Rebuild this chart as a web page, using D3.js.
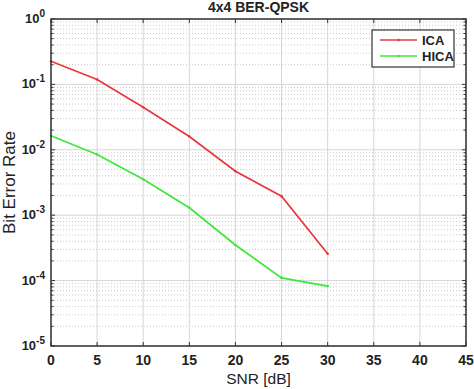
<!DOCTYPE html>
<html>
<head>
<meta charset="utf-8">
<script src="https://cdn.jsdelivr.net/npm/d3@7"></script>
<style>
  body { margin: 0; background: #fff; }
  svg { font-family: "Liberation Sans", Arial, sans-serif; }
</style>
</head>
<body>
<div id="chart"></div>
<script>
// data
const snr = [0, 5, 10, 15, 20, 25, 30]
const ica = [0.226, 0.119, 0.0448, 0.016, 0.0047, 0.00195, 0.000257]
const hica = [0.0164, 0.0085, 0.00355, 0.0013, 0.00035, 0.00011, 0.0000822]
const xTicks = [0, 5, 10, 15, 20, 25, 30, 35, 40, 45]
const yExps = [0, -1, -2, -3, -4, -5]

const series = [
    { name: 'ICA', values: ica, color: '#e8383d' },
    { name: 'HICA', values: hica, color: '#3ee83a' }
]

const W = 474, H = 389
const margin = { top: 19, right: 8, bottom: 43, left: 51 }
const width = W - margin.left - margin.right
const height = H - margin.top - margin.bottom

const svg = d3.select('#chart').append('svg')
    .attr('width', W)
    .attr('height', H)

const g = svg.append('g')
    .attr('transform', `translate(${margin.left},${margin.top})`)

const x = d3.scaleLinear().domain([0, 45]).range([0, width])
const y = d3.scaleLog().domain([1e-5, 1]).range([height, 0])

// minor values for the log axis
const minor = []
for (let e = -5; e < 0; e++) {
    for (let m = 2; m <= 9; m++) minor.push(m * Math.pow(10, e))
}

// grid: dotted minor, solid major
g.append('g').selectAll('line')
    .data(minor)
    .join('line')
    .attr('x1', 0).attr('x2', width)
    .attr('y1', d => y(d)).attr('y2', d => y(d))
    .attr('stroke', '#c8c8c8')
    .attr('stroke-width', 1)
    .attr('stroke-dasharray', '1,2')

g.append('g').selectAll('line')
    .data(yExps.map(e => Math.pow(10, e)))
    .join('line')
    .attr('x1', 0).attr('x2', width)
    .attr('y1', d => y(d)).attr('y2', d => y(d))
    .attr('stroke', '#d6d6d6')
    .attr('stroke-width', 1)

g.append('g').selectAll('line')
    .data(xTicks)
    .join('line')
    .attr('x1', d => x(d)).attr('x2', d => x(d))
    .attr('y1', 0).attr('y2', height)
    .attr('stroke', '#d6d6d6')
    .attr('stroke-width', 1)

// inward ticks on all four sides
const tickCol = '#333'
const ticks = g.append('g').attr('stroke', tickCol)
xTicks.forEach(d => {
    ticks.append('line').attr('x1', x(d)).attr('x2', x(d)).attr('y1', height).attr('y2', height - 4)
    ticks.append('line').attr('x1', x(d)).attr('x2', x(d)).attr('y1', 0).attr('y2', 4)
})
yExps.forEach(e => {
    const v = y(Math.pow(10, e))
    ticks.append('line').attr('x1', 0).attr('x2', 4).attr('y1', v).attr('y2', v)
    ticks.append('line').attr('x1', width).attr('x2', width - 4).attr('y1', v).attr('y2', v)
})
minor.forEach(d => {
    ticks.append('line').attr('x1', 0).attr('x2', 2.5).attr('y1', y(d)).attr('y2', y(d))
    ticks.append('line').attr('x1', width).attr('x2', width - 2.5).attr('y1', y(d)).attr('y2', y(d))
})

// lines
const line = d3.line()
    .x((d, i) => x(snr[i]))
    .y(d => y(d))

series.forEach(s => {
    g.append('path')
        .datum(s.values)
        .attr('fill', 'none')
        .attr('stroke', s.color)
        .attr('stroke-width', 1.7)
        .attr('d', line)
    g.append('g').selectAll('circle')
        .data(s.values)
        .join('circle')
        .attr('cx', (d, i) => x(snr[i]))
        .attr('cy', d => y(d))
        .attr('r', 1.3)
        .attr('fill', s.color)
})

// frame
g.append('rect')
    .attr('width', width).attr('height', height)
    .attr('fill', 'none')
    .attr('stroke', tickCol)
    .attr('stroke-width', 1.5)

// x tick labels
g.append('g').selectAll('text')
    .data(xTicks)
    .join('text')
    .attr('x', d => x(d))
    .attr('y', height + 19)
    .attr('text-anchor', 'middle')
    .attr('font-size', 14)
    .attr('font-weight', 'bold')
    .attr('fill', '#222')
    .text(d => d)

// y tick labels 10^e
const yl = g.append('g').selectAll('text')
    .data(yExps)
    .join('text')
    .attr('x', -6)
    .attr('y', e => y(Math.pow(10, e)) + 4)
    .attr('text-anchor', 'end')
    .attr('font-size', 13)
    .attr('font-weight', 'bold')
    .attr('fill', '#222')
yl.append('tspan').text('10')
yl.append('tspan')
    .attr('dy', -6)
    .attr('font-size', 10)
    .text(e => e)

// titles
svg.append('text')
    .attr('x', margin.left + width / 2)
    .attr('y', 12)
    .attr('text-anchor', 'middle')
    .attr('font-size', 14)
    .attr('font-weight', 'bold')
    .attr('fill', '#222')
    .text('4x4 BER-QPSK')

svg.append('text')
    .attr('x', margin.left + width / 2)
    .attr('y', 384)
    .attr('text-anchor', 'middle')
    .attr('font-size', 15.5)
    .attr('fill', '#222')
    .text('SNR [dB]')

svg.append('text')
    .attr('transform', `translate(15,${margin.top + height / 2}) rotate(-90)`)
    .attr('text-anchor', 'middle')
    .attr('font-size', 17)
    .attr('fill', '#222')
    .text('Bit Error Rate')

// legend
const lg = svg.append('g').attr('transform', 'translate(372,30)')
lg.append('rect')
    .attr('width', 82).attr('height', 37)
    .attr('fill', '#fff')
    .attr('stroke', tickCol)
    .attr('stroke-width', 1.2)
series.forEach((s, i) => {
    const yy = 10 + i * 16
    lg.append('line')
        .attr('x1', 8).attr('x2', 45)
        .attr('y1', yy).attr('y2', yy)
        .attr('stroke', s.color)
        .attr('stroke-width', 1.6)
    lg.append('circle').attr('cx', 26.5).attr('cy', yy).attr('r', 1.3).attr('fill', s.color)
    lg.append('text')
        .attr('x', 50).attr('y', yy + 5)
        .attr('font-size', 13)
        .attr('font-weight', 'bold')
        .attr('fill', '#222')
        .text(s.name)
})
</script>
</body>
</html>
